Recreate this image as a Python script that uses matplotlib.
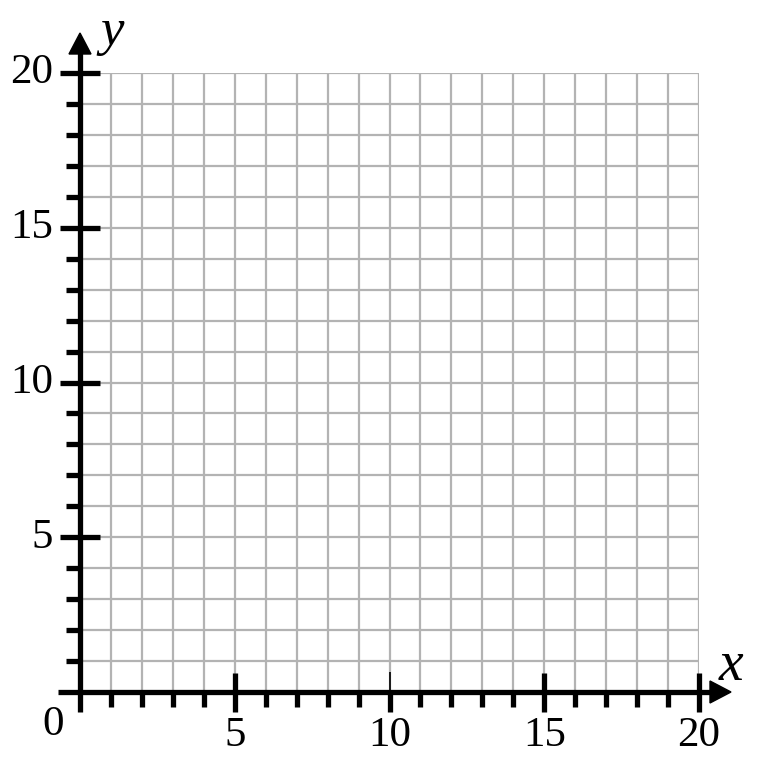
import matplotlib
matplotlib.use("Agg")
import matplotlib.pyplot as plt
from matplotlib.patches import Polygon

plt.rcParams["mathtext.fontset"] = "custom"
plt.rcParams["mathtext.it"] = "Liberation Serif:italic"
plt.rcParams["mathtext.rm"] = "Liberation Serif"

# ---- data ----
x_max = 20
y_max = 20
grid_values = list(range(1, 21))
major_ticks = [5, 10, 15, 20]
minor_ticks = [v for v in grid_values if v not in major_ticks]
tick_labels = ["5", "10", "15", "20"]
origin_label = "0"
x_label = "$x$"
y_label = "$y$"

fig = plt.figure(figsize=(7.68, 7.68), dpi=100)
L, B, W = 80 / 768, 76 / 768, 619 / 768
ax = fig.add_axes([L, B, W, W])
ax.set_xlim(0, x_max)
ax.set_ylim(0, y_max)
ax.axis("off")

px = x_max / 619.0  # data units per pixel

grid_c = "#b3b3b3"
ax.vlines(grid_values, 0, y_max, colors=grid_c, lw=1.6, zorder=1)
ax.hlines(grid_values, 0, x_max, colors=grid_c, lw=1.6, zorder=1)

lw_axis = 3.8
# axes lines
ax.plot([-22 * px, 632 * px], [0, 0], color="black", lw=lw_axis, solid_capstyle="butt", clip_on=False, zorder=3)
ax.plot([0, 0], [-20 * px, 640 * px], color="black", lw=lw_axis, solid_capstyle="butt", clip_on=False, zorder=3)
# arrow heads
ax.add_patch(Polygon([[630 * px, 11 * px], [651 * px, 0], [630 * px, -11 * px]], closed=True,
                     color="black", clip_on=False, zorder=4))
ax.add_patch(Polygon([[-11 * px, 638 * px], [0, 659 * px], [11 * px, 638 * px]], closed=True,
                     color="black", clip_on=False, zorder=4))

tick_lw = 3.8
# x ticks
for v in minor_ticks:
    ax.plot([v, v], [0, -15 * px], color="black", lw=tick_lw, solid_capstyle="butt", clip_on=False, zorder=3)
for v in major_ticks:
    if v == 10:
        ax.plot([v, v], [0, -20 * px], color="black", lw=tick_lw, solid_capstyle="butt", clip_on=False, zorder=3)
        ax.plot([v, v], [0, 20 * px], color="black", lw=1.2, solid_capstyle="butt", clip_on=False, zorder=3)
    else:
        ax.plot([v, v], [-20 * px, 19 * px], color="black", lw=tick_lw, solid_capstyle="butt", clip_on=False, zorder=3)
# y ticks
for v in minor_ticks:
    ax.plot([0, -14 * px], [v, v], color="black", lw=tick_lw, solid_capstyle="butt", clip_on=False, zorder=3)
for v in major_ticks:
    ax.plot([-20 * px, 20 * px], [v, v], color="black", lw=tick_lw, solid_capstyle="butt", clip_on=False, zorder=3)

fnt = ["Liberation Serif", "DejaVu Serif"]
fs = 31
for v, t in zip(major_ticks, tick_labels):
    ax.text(v, -44 * px, t, ha="center", va="center", fontsize=fs, family=fnt, clip_on=False)
    ax.text(-27 * px, v, t, ha="right", va="center", fontsize=fs, family=fnt, clip_on=False)
ax.text(-27 * px, -33 * px, origin_label, ha="center", va="center", fontsize=fs, family=fnt, clip_on=False)

ax.text(651 * px, 27 * px, x_label, ha="center", va="center", fontsize=40, clip_on=False)
ax.text(31 * px, 660 * px, y_label, ha="center", va="center", fontsize=38, clip_on=False)

fig.savefig("out.png", dpi=100)
